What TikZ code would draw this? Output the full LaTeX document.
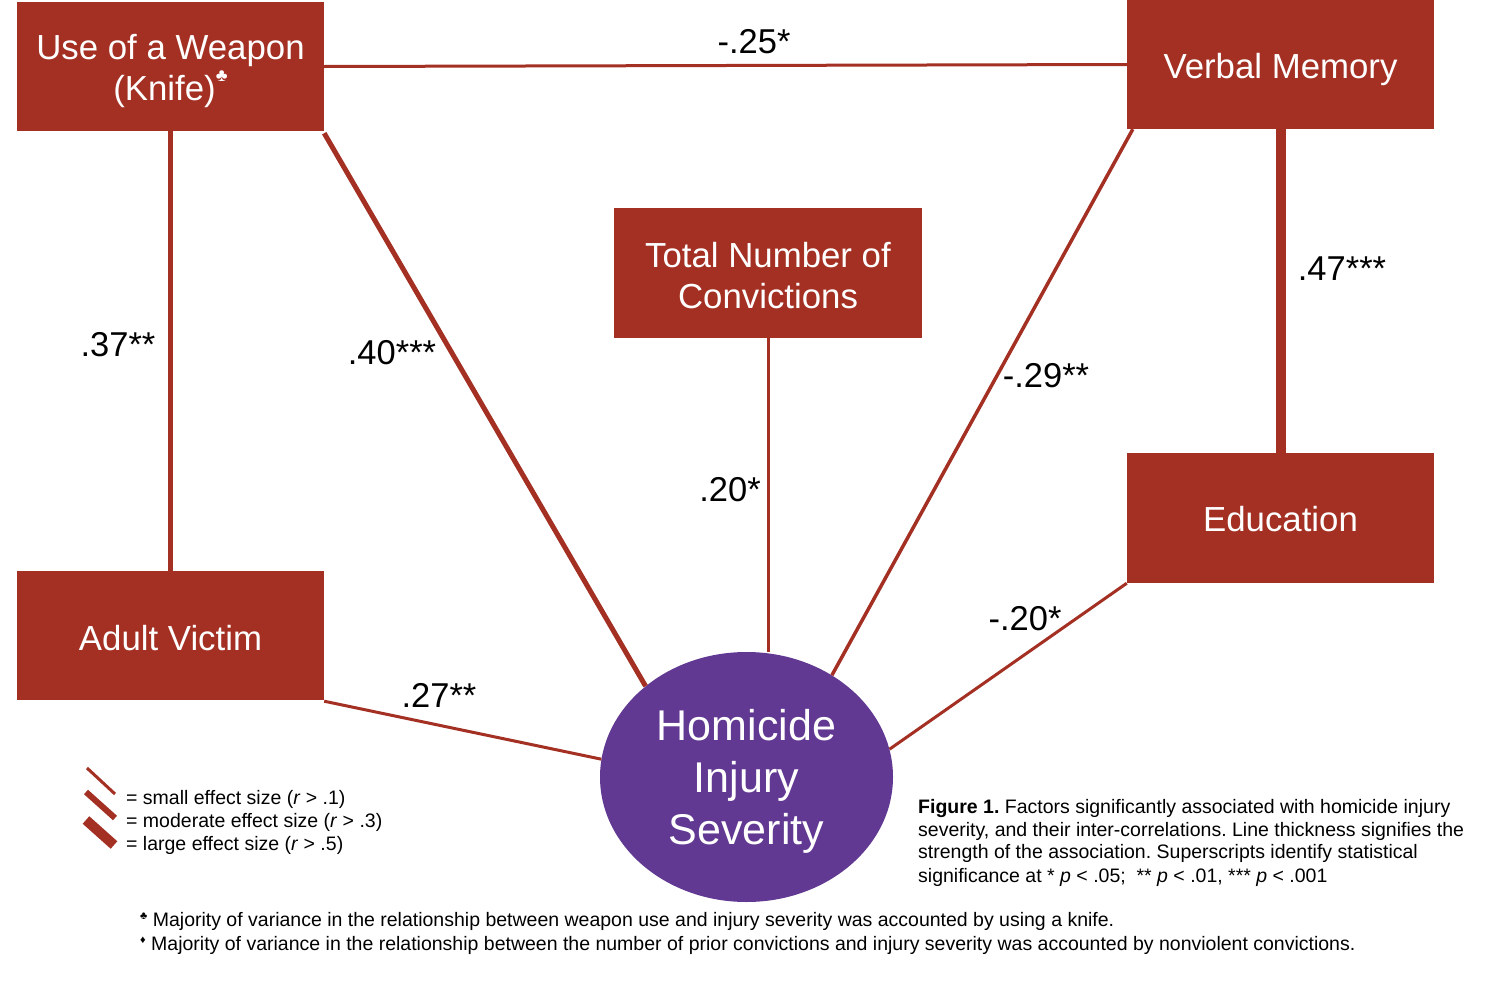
\documentclass[tikz,border=0pt]{standalone}
\usepackage{fontspec}
\setmainfont{Liberation Sans}
\usetikzlibrary{shapes.geometric}
\definecolor{brick}{RGB}{163,48,35}
\definecolor{plum}{RGB}{97,57,146}
\newcommand\toplift[1]{\rule{0pt}{#1}}
\begin{document}
\frenchspacing
\begin{tikzpicture}[x=1pt,y=-1pt,
  factor/.style={draw=none,fill=brick,text=white,minimum width=307pt,minimum height=129pt,
    inner sep=0pt,align=center,font=\fontsize{34.8}{41}\selectfont},
  outcome/.style={ellipse,fill=plum,text=white,minimum width=293pt,minimum height=250pt,
    inner sep=0pt,align=center,font=\fontsize{43}{52}\selectfont},
  link/.style={draw=brick},
  small/.style={link,line width=3pt},
  moderate/.style={link,line width=5.5pt},
  large/.style={link,line width=10pt},
  coef/.style={font=\fontsize{34.5}{40}\selectfont,inner sep=0pt},
  note/.style={font=\fontsize{19.5}{23}\selectfont,inner sep=0pt,anchor=base west},
]
\useasboundingbox (0,0) rectangle (1500,1004);
\fill[white] (0,0) rectangle (1500,1004);

\node[factor] (w) at (170.5,66.5) {\toplift{35pt}Use of a Weapon\\(Knife)\raisebox{0.55em}{\fontsize{18}{18}\selectfont ♣}};
\node[factor] (v) at (1280.5,64.5) {\toplift{35.5pt}Verbal Memory};
\node[factor,minimum width=308pt,minimum height=130pt] (t) at (768,273) {\toplift{30.5pt}Total Number of\\Convictions};
\node[factor,minimum height=130pt] (e) at (1280.5,518) {\toplift{27.5pt}Education};
\node[factor] (a) at (170.5,635.5) {\toplift{29.5pt}Adult Victim};
\node[outcome] (h) at (746.5,777) {\toplift{39.5pt}Homicide\\Injury\\Severity};

\draw[small] (w.east) -- (v.west);
\draw[moderate] (w.south) -- (a.north);
\draw[moderate,line width=5pt] ([yshift=-2pt]w.south east) -- (h.138.8);
\draw[small] (t.south) -- (t.south |- h.north);
\draw[small,line width=3.5pt] ([xshift=6pt]v.south west) -- (h.50.4);
\draw[large] (v.south) -- (e.north);
\draw[small] (e.south west) -- (h.11.5);
\draw[small] ([yshift=-1pt]a.south east) -- (h.173);

\node[coef] (l1) at (754,42) {-.25*};
\node[coef] (l2) at (118,345) {.37**};
\node[coef] (l3) at (392,353) {.40***};
\node[coef] (l4) at (730,490) {.20*};
\node[coef] (l5) at (1046,376) {-.29**};
\node[coef] (l6) at (1342,269) {.47***};
\node[coef] (l7) at (1025,619) {-.20*};
\node[coef] (l8) at (439,695) {.27**};

% legend
\draw[brick,line width=3pt] (87,768) -- (115,794);
\draw[brick,line width=6pt] (86,792) -- (115,818);
\draw[brick,line width=10pt] (86,820) -- (114,845);
\node[note] (g1) at (126,804) {= small effect size (\textit{r} > .1)};
\node[note] (g2) at (126,827) {= moderate effect size (\textit{r} > .3)};
\node[note] (g3) at (126,850) {= large effect size (\textit{r} > .5)};

% caption
\node[note] (c1) at (918,813) {\textbf{Figure 1.} Factors significantly associated with homicide injury};
\node[note] (c2) at (918,836) {severity, and their inter-correlations. Line thickness signifies the};
\node[note] (c3) at (918,858) {strength of the association. Superscripts identify statistical};
\node[note] (c4) at (918,882) {significance at * \textit{p} < .05;\ \ ** \textit{p} < .01, *** \textit{p} < .001};

% footnotes
\node[note] (f1) at (140,926) {\raisebox{0.35em}{\fontsize{11}{11}\selectfont ♣} Majority of variance in the relationship between weapon use and injury severity was accounted by using a knife.};
\node[note] (f2) at (140,950) {\raisebox{0.35em}{\fontsize{11}{11}\selectfont ♦} Majority of variance in the relationship between the number of prior convictions and injury severity was accounted by nonviolent convictions.};
\end{tikzpicture}
\end{document}
